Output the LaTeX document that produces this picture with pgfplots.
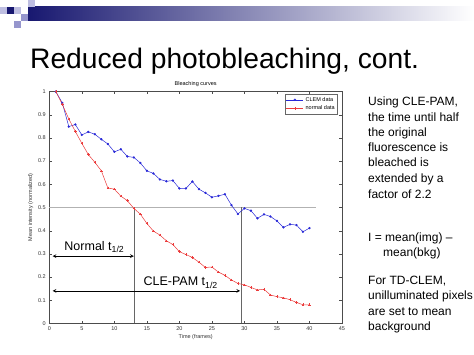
\documentclass[border=0pt]{standalone}
\usepackage{fontspec}
\setmainfont{Liberation Sans}
\usepackage{pgfplots}
\pgfplotsset{compat=1.18}
\usepackage{pgfplotstable}
\definecolor{navy}{RGB}{24,24,112}
\definecolor{lav}{RGB}{190,190,225}
\definecolor{lav2}{RGB}{150,150,205}
\definecolor{mblue}{RGB}{40,40,215}
\definecolor{mred}{RGB}{235,60,60}
\pgfplotstableread{
x y
1 1.000
2 0.951
3 0.849
4 0.858
5 0.813
6 0.826
7 0.816
8 0.794
9 0.774
10 0.740
11 0.751
12 0.720
13 0.716
14 0.692
15 0.658
16 0.647
17 0.621
18 0.613
19 0.616
20 0.582
21 0.582
22 0.612
23 0.579
24 0.563
25 0.544
26 0.550
27 0.557
28 0.510
29 0.472
30 0.496
31 0.486
32 0.453
33 0.470
34 0.461
35 0.442
36 0.414
37 0.427
38 0.424
39 0.395
40 0.411
}\clemdata
\pgfplotstableread{
x y
1 1.000
2 0.945
3 0.882
4 0.828
5 0.777
6 0.728
7 0.695
8 0.658
9 0.584
10 0.579
11 0.549
12 0.529
13 0.496
14 0.471
15 0.431
16 0.398
17 0.381
18 0.356
19 0.340
20 0.309
21 0.297
22 0.284
23 0.264
24 0.241
25 0.243
26 0.221
27 0.207
28 0.187
29 0.172
30 0.166
31 0.155
32 0.144
33 0.147
34 0.122
35 0.115
36 0.110
37 0.102
38 0.090
39 0.080
40 0.080
}\normaldata
\begin{document}
\begin{tikzpicture}[x=1pt,y=1pt]
\path[use as bounding box] (0,0) rectangle (474,355);
% banner
\shade[left color=navy, right color=white] (28,334) rectangle (474,348);
\fill[lav] (28,348) rectangle (35,355);
\fill[lav] (0,341) rectangle (7,348);
\fill[navy] (7,341) rectangle (14,348);
\fill[lav] (14,341) rectangle (21,348);
\fill[lav2] (21,334) rectangle (28,341);
\fill[lav2] (14,327) rectangle (21,334);
% slide title
\node[anchor=base west, inner sep=0] at (30,286.7) {\fontsize{28.2}{32}\selectfont Reduced photobleaching, cont.};
% right text
\begin{scope}[every node/.style={anchor=base west, inner sep=0, font=\fontsize{12}{14}\selectfont}]
\node at (368,249) {Using CLE-PAM,};
\node at (368,233.5) {the time until half};
\node at (368,218) {the original};
\node at (368,203) {fluorescence is};
\node at (368,188) {bleached is};
\node at (368,172) {extended by a};
\node at (368,156.5) {factor of 2.2};
\node at (368,113.5) {I = mean(img) –};
\node at (383,98) {mean(bkg)};
\node at (368,70.5) {For TD-CLEM,};
\node at (368,55) {unilluminated pixels};
\node at (368,39.5) {are set to mean};
\node at (368,24) {background};
\end{scope}
\begin{axis}[
  at={(49.3pt,31.7pt)}, anchor=south west,
  scale only axis, width=292.7pt, height=231.7pt,
  xmin=0, xmax=45, ymin=0, ymax=1,
  xtick={0,5,...,45}, ytick={0,0.1,...,1},
  tick align=inside, major tick length=2.5pt,
  axis line style={black!70}, tick style={black!70},
  tick label style={font=\fontsize{5.5}{6}\selectfont, text=black!80},
  /pgf/number format/assume math mode=true,
  xlabel={Time (frames)}, ylabel={Mean intensity (normalized)},
  label style={font=\fontsize{5.5}{6}\selectfont, text=black!80},
  xlabel style={yshift=3pt}, ylabel style={yshift=-2pt},
  title={Bleaching curves}, title style={font=\fontsize{5.5}{6}\selectfont, yshift=-5pt},
  legend style={at={(0.986,0.99)}, anchor=north east, font=\fontsize{5.5}{6}\selectfont,
    draw=black!60, inner sep=1pt, row sep=-1pt, cells={anchor=west}},
  legend cell align=left,
  clip=false,
]
\addplot[black!30, line width=0.5pt, forget plot] coordinates {(0,0.5) (41,0.5)};
\addplot[black!60, line width=0.7pt, forget plot] coordinates {(13.1,0) (13.1,0.5)};
\addplot[black!60, line width=0.7pt, forget plot] coordinates {(29.45,0) (29.45,0.5)};
\addplot[mblue, line width=0.5pt, mark=*, mark size=0.9pt] table[x=x,y=y] {\clemdata};
\addlegendentry{CLEM data}
\addplot[mred, line width=0.5pt, mark=+, mark size=1.3pt] table[x=x,y=y] {\normaldata};
\addlegendentry{normal data}
\draw[black, line width=0.7pt, <->, >=stealth] (axis cs:0.5,0.29) -- (axis cs:13.0,0.29);
\draw[black, line width=0.7pt, <->, >=stealth] (axis cs:0.5,0.14) -- (axis cs:29.35,0.14);
\node[anchor=base west, inner sep=0, font=\fontsize{12.5}{14}\selectfont] at (axis cs:2.3,0.313) {Normal t\textsubscript{1/2}};
\node[anchor=base west, inner sep=0, font=\fontsize{12.5}{14}\selectfont] at (axis cs:14.46,0.161) {CLE-PAM t\textsubscript{1/2}};
\end{axis}
\end{tikzpicture}
\end{document}
